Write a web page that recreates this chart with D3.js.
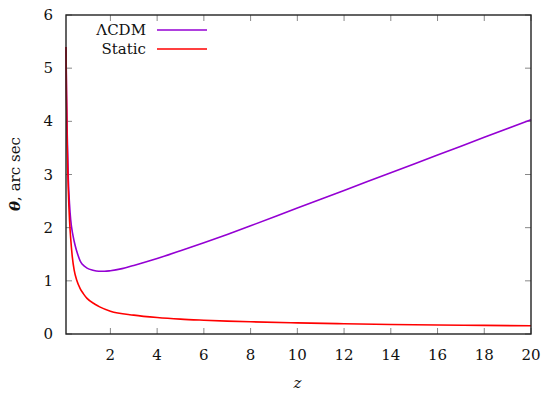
<!doctype html>
<html lang="en">
<head>
<meta charset="utf-8">
<title>theta vs z</title>
<script src="https://cdn.jsdelivr.net/npm/d3@7/dist/d3.min.js"></script>
<style>
body { margin: 0; background: #fff; }
svg text { font-family: "DejaVu Serif", serif; fill: #111; }
</style>
</head>
<body>
<svg id="chart" width="550" height="396"></svg>
<script>
// redshift samples and angular size (arc sec)
var zLcdm = [0.1, 0.12, 0.15, 0.2, 0.25, 0.3, 0.4, 0.5, 0.6, 0.7, 0.8, 1.0, 1.25, 1.5, 1.75, 2, 2.5, 3, 4, 5, 6, 7, 8, 10, 12, 14, 16, 18, 20];
var thetaLcdm = [5.4, 4.6, 3.8, 2.9, 2.45, 2.15, 1.85, 1.65, 1.5, 1.38, 1.31, 1.24, 1.2, 1.18, 1.18, 1.19, 1.23, 1.29, 1.42, 1.565, 1.715, 1.872, 2.035, 2.37, 2.70, 3.035, 3.365, 3.70, 4.03];
var zStatic = [0.1, 0.12, 0.15, 0.2, 0.25, 0.3, 0.37, 0.45, 0.56, 0.7, 0.84, 1.0, 1.34, 1.54, 2, 3, 4, 5, 6, 7, 8, 10, 12, 14, 16, 18, 20];
var thetaStatic = [5.4, 4.5, 3.6, 2.7, 2.15, 1.8, 1.45, 1.2, 1.01, 0.86, 0.76, 0.67, 0.56, 0.51, 0.43, 0.355, 0.31, 0.28, 0.26, 0.243, 0.23, 0.21, 0.193, 0.18, 0.17, 0.162, 0.155];
var xTicks = [2, 4, 6, 8, 10, 12, 14, 16, 18, 20];
var yTicks = [0, 1, 2, 3, 4, 5, 6];

var svg = d3.select("#chart");
var x = d3.scaleLinear().domain([0.1, 20]).range([66, 531]);
var y = d3.scaleLinear().domain([0, 6]).range([334, 15]);

// inward ticks, mirrored on top and right
var tickColor = "#888";
svg.append("g").selectAll("line").data(xTicks).enter().append("line")
	.attr("x1", d => x(d)).attr("x2", d => x(d))
	.attr("y1", y(0)).attr("y2", y(0) - 6)
	.attr("stroke", tickColor);
svg.append("g").selectAll("line").data(xTicks).enter().append("line")
	.attr("x1", d => x(d)).attr("x2", d => x(d))
	.attr("y1", y(6)).attr("y2", y(6) + 6)
	.attr("stroke", tickColor);
svg.append("g").selectAll("line").data(yTicks).enter().append("line")
	.attr("x1", x(0.1)).attr("x2", x(0.1) + 6)
	.attr("y1", d => y(d)).attr("y2", d => y(d))
	.attr("stroke", tickColor);
svg.append("g").selectAll("line").data(yTicks).enter().append("line")
	.attr("x1", x(20)).attr("x2", x(20) - 6)
	.attr("y1", d => y(d)).attr("y2", d => y(d))
	.attr("stroke", tickColor);

// tick labels
svg.append("g").selectAll("text").data(xTicks).enter().append("text")
	.attr("x", d => x(d)).attr("y", 360)
	.attr("text-anchor", "middle").attr("font-size", 15)
	.text(d => d);
svg.append("g").selectAll("text").data(yTicks).enter().append("text")
	.attr("x", 53).attr("y", d => y(d) + 5)
	.attr("text-anchor", "end").attr("font-size", 15)
	.text(d => d);

// curves
var line = d3.line().x(d => x(d[0])).y(d => y(d[1])).curve(d3.curveMonotoneX);
svg.append("path")
	.attr("d", line(d3.zip(zLcdm, thetaLcdm)))
	.attr("fill", "none").attr("stroke", "#9400d3").attr("stroke-width", 1.6);
svg.append("path")
	.attr("d", line(d3.zip(zStatic, thetaStatic)))
	.attr("fill", "none").attr("stroke", "#ff0000").attr("stroke-width", 1.6);

// frame
svg.append("rect")
	.attr("x", x(0.1)).attr("y", y(6))
	.attr("width", x(20) - x(0.1)).attr("height", y(0) - y(6))
	.attr("fill", "none").attr("stroke", "#222").attr("stroke-width", 1.4);

// legend
var legend = [["\u039BCDM", "#9400d3"], ["Static", "#ff0000"]];
legend.forEach(function(d, i) {
	var ly = 30 + i * 19;
	svg.append("text").attr("x", 146).attr("y", ly + 5)
		.attr("text-anchor", "end").attr("font-size", 15).text(d[0]);
	svg.append("line").attr("x1", 157).attr("x2", 207)
		.attr("y1", ly).attr("y2", ly)
		.attr("stroke", d[1]).attr("stroke-width", 1.6);
});

// axis titles
svg.append("text").attr("x", x(10)).attr("y", 388)
	.attr("text-anchor", "middle").attr("font-size", 15)
	.attr("font-style", "italic").text("z");
var yt = svg.append("text")
	.attr("transform", "translate(20,174) rotate(-90)")
	.attr("text-anchor", "middle").attr("font-size", 15);
yt.append("tspan").attr("font-style", "italic").attr("font-weight", "bold").text("\u03B8");
yt.append("tspan").text(", arc sec");
</script>
</body>
</html>
